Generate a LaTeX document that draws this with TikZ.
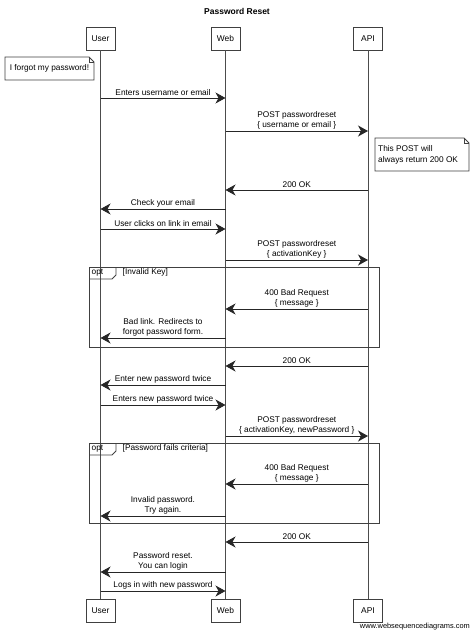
\documentclass[tikz,border=0pt]{standalone}
\usepackage{fontspec}
\setmainfont{Liberation Sans}
\usepackage{tikz}
\usetikzlibrary{arrows.meta,calc}

\begin{document}
\begin{tikzpicture}[x=1pt, y=-1pt, >={Stealth[length=10pt,width=11pt,inset=3pt]},
    actor/.style={draw=black!75, line width=0.8pt, minimum width=29pt, minimum height=23pt,
      inner sep=1pt, font=\fontsize{8.4}{10}\selectfont},
    life/.style={draw=black!70, line width=0.7pt},
    msg/.style={draw=black!85, line width=0.9pt, ->},
    lbl/.style={font=\fontsize{8.3}{10}\selectfont, align=center, inner sep=1.5pt},
    notetext/.style={font=\fontsize{8.3}{11}\selectfont, align=left, inner sep=0pt},
    frame/.style={draw=black!75, line width=0.8pt}]
    \useasboundingbox (0,0) rectangle (474,634);

    % Title
    \node[font=\bfseries\fontsize{8.5}{10}\selectfont] (title) at (237,11) {Password Reset};

    % Participants (top and bottom)
    \node[actor] (userTop) at (100.5,38.5) {User};
    \node[actor] (webTop) at (225.5,38.5) {Web};
    \node[actor] (apiTop) at (368,38.5) {API};
    \node[actor] (userBot) at (100.5,610.5) {User};
    \node[actor] (webBot) at (225.5,610.5) {Web};
    \node[actor] (apiBot) at (368,610.5) {API};

    % Lifelines
    \draw[life] (userTop) -- (userBot);
    \draw[life] (webTop) -- (webBot);
    \draw[life] (apiTop) -- (apiBot);

    % Note on User
    \draw[frame, fill=white] (5,57) -- (89,57) -- (94,62) -- (94,80) -- (5,80) -- cycle;
    \draw[frame] (89,57) -- (89,62) -- (94,62);
    \node[notetext] (note1) at (49.5,68.5) {I forgot my password!};

    % Request for reset
    \draw[msg] (userTop |- 0,98) -- (webTop |- 0,98) node[lbl, midway, above] (m1) {Enters username or email};
    \draw[msg] (webTop |- 0,131) -- (apiTop |- 0,131) node[lbl, midway, above] (m2) {POST passwordreset\\\{ username or email \}};

    % Note on API
    \draw[frame, fill=white] (375,138) -- (464,138) -- (469,143) -- (469,171) -- (375,171) -- cycle;
    \draw[frame] (464,138) -- (464,143) -- (469,143);
    \node[notetext, anchor=west] (note2) at (378,154.5) {This POST will\\always return 200 OK};

    \draw[msg] (apiTop |- 0,190) -- (webTop |- 0,190) node[lbl, midway, above] (m3) {200 OK};
    \draw[msg] (webTop |- 0,209) -- (userTop |- 0,209) node[lbl, midway, above] (m4) {Check your email};
    \draw[msg] (userTop |- 0,229) -- (webTop |- 0,229) node[lbl, midway, above] (m5) {User clicks on link in email};
    \draw[msg] (webTop |- 0,260) -- (apiTop |- 0,260) node[lbl, midway, above] (m6) {POST passwordreset\\\{ activationKey \}};

    % opt: invalid key
    \draw[frame] (89,267) rectangle (379,347);
    \draw[frame] (89,279) -- (112,279) -- (116,275) -- (116,267);
    \node[lbl, anchor=west] (opt1) at (90,273) {opt};
    \node[lbl, anchor=west] (guard1) at (121,272.5) {[Invalid Key]};
    \draw[msg] (apiTop |- 0,309) -- (webTop |- 0,309) node[lbl, midway, above] (m7) {400 Bad Request\\\{ message \}};
    \draw[msg] (webTop |- 0,338) -- (userTop |- 0,338) node[lbl, midway, above] (m8) {Bad link. Redirects to\\forgot password form.};

    \draw[msg] (apiTop |- 0,366) -- (webTop |- 0,366) node[lbl, midway, above] (m9) {200 OK};
    \draw[msg] (webTop |- 0,385) -- (userTop |- 0,385) node[lbl, midway, above] (m10) {Enter new password twice};
    \draw[msg] (userTop |- 0,405) -- (webTop |- 0,405) node[lbl, midway, above] (m11) {Enters new password twice};
    \draw[msg] (webTop |- 0,436) -- (apiTop |- 0,436) node[lbl, midway, above] (m12) {POST passwordreset\\\{ activationKey, newPassword \}};

    % opt: password fails criteria
    \draw[frame] (89,443) rectangle (379,523);
    \draw[frame] (89,455) -- (112,455) -- (116,451) -- (116,443);
    \node[lbl, anchor=west] (opt2) at (90,449) {opt};
    \node[lbl, anchor=west] (guard2) at (121,448.5) {[Password fails criteria]};
    \draw[msg] (apiTop |- 0,484) -- (webTop |- 0,484) node[lbl, midway, above] (m13) {400 Bad Request\\\{ message \}};
    \draw[msg] (webTop |- 0,516) -- (userTop |- 0,516) node[lbl, midway, above] (m14) {Invalid password.\\Try again.};

    \draw[msg] (apiTop |- 0,542) -- (webTop |- 0,542) node[lbl, midway, above] (m15) {200 OK};
    \draw[msg] (webTop |- 0,572) -- (userTop |- 0,572) node[lbl, midway, above] (m16) {Password reset.\\You can login};
    \draw[msg] (userTop |- 0,591) -- (webTop |- 0,591) node[lbl, midway, above] (m17) {Logs in with new password};

    % Watermark
    \node[font=\fontsize{7.4}{9}\selectfont, anchor=east, inner sep=0pt] (wm) at (470,627) {www.websequencediagrams.com};
\end{tikzpicture}
\end{document}
